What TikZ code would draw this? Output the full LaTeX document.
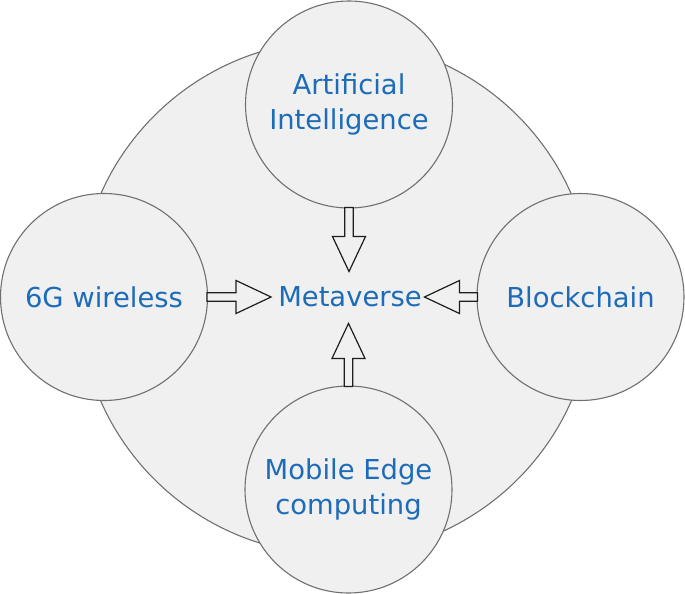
\documentclass[tikz,border=0pt]{standalone}
\usepackage{fontspec}
\setmainfont{DejaVu Sans}
\definecolor{fillgray}{RGB}{240,240,240}
\definecolor{edgegray}{RGB}{112,112,112}
\definecolor{txtblue}{RGB}{28,108,186}
\definecolor{arrowline}{RGB}{30,30,30}
\tikzset{
  bigbub/.style={circle, draw=edgegray, fill=fillgray, line width=1.1pt, minimum size=514pt, inner sep=0pt},
  bub/.style={circle, draw=edgegray, fill=fillgray, line width=1.1pt, minimum size=207pt, inner sep=0pt,
    text=txtblue, align=center, font=\fontsize{27.4}{35.7}\selectfont},
  centertext/.style={text=txtblue, inner sep=0pt, font=\fontsize{27.4}{35.7}\selectfont},
  hollowarrow/.style={draw=arrowline, fill=fillgray, line width=1.2pt, line join=miter}
}
\newcommand\blockarrow[3]{%
  \draw[hollowarrow, shift={(#1)}, rotate=#2]
    (-1,-4.2) -- ({#3-35},-4.2) -- ({#3-35},-16.5) -- (#3,0) -- ({#3-35},16.5) -- ({#3-35},4.2) -- (-1,4.2) -- cycle;}
\begin{document}
\begin{tikzpicture}[x=1pt,y=-1pt]
\useasboundingbox (0,0) rectangle (685,594);
\node[bigbub] (world) at (336,297.5) {};
\node[bub] (ai) at (349,104.5) {Artificial\\Intelligence};
\node[bub] (g6) at (104,297) {6G wireless};
\node[bub] (bc) at (580.5,297) {Blockchain};
\node[bub] (mec) at (348.5,489.5) {Mobile Edge\\computing};
\node[centertext] (mv) at (350,297) {Metaverse};
\coordinate (aiS) at (ai.south);
\coordinate (g6E) at (g6.east);
\coordinate (bcW) at (bc.west);
\coordinate (mecN) at (mec.north);
\blockarrow{aiS}{-90}{63}
\blockarrow{g6E}{0}{63}
\blockarrow{bcW}{180}{52}
\blockarrow{mecN}{90}{62}
\end{tikzpicture}
\end{document}
